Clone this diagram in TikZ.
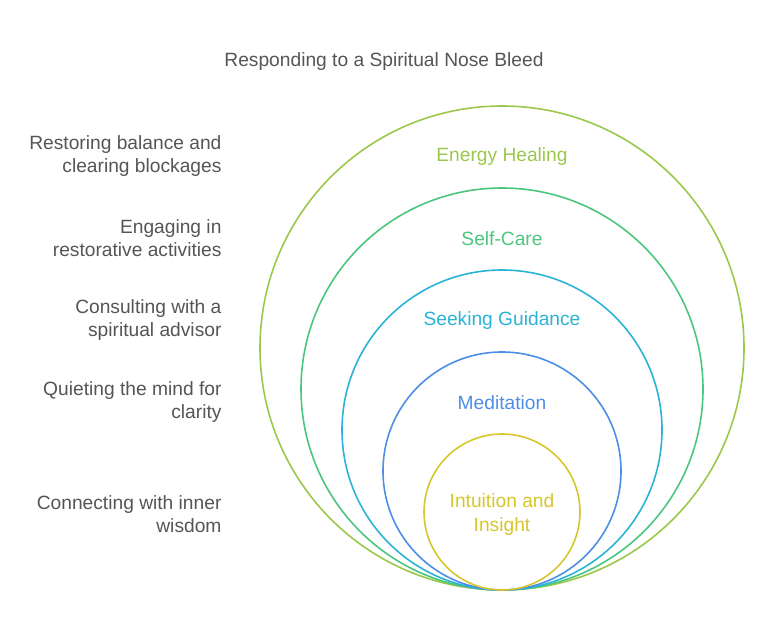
\documentclass[tikz,border=0pt]{standalone}
\usepackage{fontspec}
\setmainfont{Liberation Sans}
\definecolor{healcol}{HTML}{9BC84A}
\definecolor{carecol}{HTML}{4CC67C}
\definecolor{guidecol}{HTML}{2BB3D6}
\definecolor{medcol}{HTML}{4D8EE6}
\definecolor{intucol}{HTML}{D6C62C}
\definecolor{textcol}{HTML}{555555}
\begin{document}
\begin{tikzpicture}[
    x=1pt, y=-1pt,
    ring/.style={circle, draw, line width=1.6pt, inner sep=0pt},
    ringlabel/.style={font=\fontsize{19.2}{24}\selectfont, align=center},
    sidelabel/.style={font=\fontsize{19.2}{23}\selectfont, text=textcol, align=right, anchor=east}
]
\useasboundingbox (0,0) rectangle (768,639);

% Titolo
\node[font=\fontsize{19.2}{22}\selectfont, text=textcol] (title) at (384,62) {Responding to a Spiritual Nose Bleed};

% Cerchi
\node[ring, draw=healcol, minimum size=484pt] (heal) at (502,348) {};
\node[ring, draw=carecol, minimum size=402pt] (care) at (502,389) {};
\node[ring, draw=guidecol, minimum size=320pt] (guide) at (502,430) {};
\node[ring, draw=medcol, minimum size=238pt] (med) at (502,471) {};
\node[ring, draw=intucol, minimum size=156pt] (intu) at (502,512) {};

% Etichette dei cerchi
\node[ringlabel, text=healcol] (healtext) at (502,157) {Energy Healing};
\node[ringlabel, text=carecol] (caretext) at (502,239) {Self-Care};
\node[ringlabel, text=guidecol] (guidetext) at (502,321) {Seeking Guidance};
\node[ringlabel, text=medcol] (medtext) at (502,403) {Meditation};
\node[ringlabel, text=intucol] (intutext) at (502,515) {Intuition and\\Insight};

% Descrizioni
\node[sidelabel] (healdesc) at (225,156) {Restoring balance and\\clearing blockages};
\node[sidelabel] (caredesc) at (225,238) {Engaging in\\restorative activities};
\node[sidelabel] (guidedesc) at (225,320) {Consulting with a\\spiritual advisor};
\node[sidelabel] (meddesc) at (225,402) {Quieting the mind for\\clarity};
\node[sidelabel] (intudesc) at (225,514) {Connecting with inner\\wisdom};
\end{tikzpicture}
\end{document}
